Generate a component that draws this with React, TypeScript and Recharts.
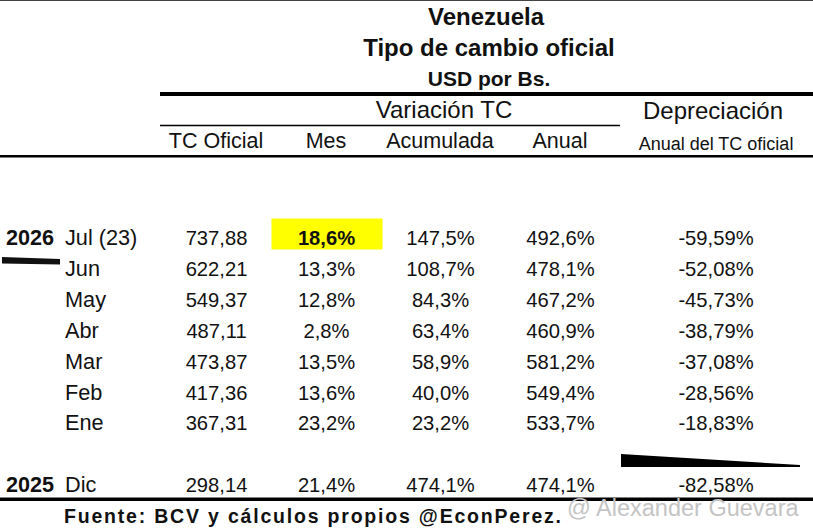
import { Customized, Scatter, ScatterChart, XAxis, YAxis } from 'recharts'

// rows, newest first
const months = ['Jul (23)', 'Jun', 'May', 'Abr', 'Mar', 'Feb', 'Ene', 'Dic']
const years = ['2026', '2026', '2026', '2026', '2026', '2026', '2026', '2025']
const tcOficial = [737.88, 622.21, 549.37, 487.11, 473.87, 417.36, 367.31, 298.14]
const varMes = [18.6, 13.3, 12.8, 2.8, 13.5, 13.6, 23.2, 21.4]
const varAcumulada = [147.5, 108.7, 84.3, 63.4, 58.9, 40.0, 23.2, 474.1]
const varAnual = [492.6, 478.1, 467.2, 460.9, 581.2, 549.4, 533.7, 474.1]
const depAnual = [-59.59, -52.08, -45.73, -38.79, -37.08, -28.56, -18.83, -82.58]
const highlightRow = 'Jul (23)'

const titleLines = ['Venezuela', 'Tipo de cambio oficial', 'USD por Bs.']
const groupHeaders = ['Variación TC', 'Depreciación']
const columnHeaders = ['TC Oficial', 'Mes', 'Acumulada', 'Anual', 'Anual del TC oficial']
const source = 'Fuente: BCV y cálculos propios @EconPerez.'
const watermark = '@ Alexander Guevara'

const W = 813
const H = 532
const FONT = '"Liberation Sans", Arial, Helvetica, sans-serif'
const COL_X = [216.5, 326.5, 440.5, 560.5, 716]
const LABEL_X = 65
const YEAR_X = 6

const fmt = (v: number, d: number, pct: boolean) =>
  v.toFixed(d).replace('.', ',') + (pct ? '%' : '')

// a blank slot is left between year groups
const slots = months.map((_, i) => {
  let gaps = 0
  for (let k = 1; k <= i; k++) if (years[k] !== years[k - 1]) gaps++
  return i + gaps
})
const lastSlot = slots[slots.length - 1]

const columns = [
  tcOficial.map((v) => fmt(v, 2, false)),
  varMes.map((v) => fmt(v, 1, true)),
  varAcumulada.map((v) => fmt(v, 1, true)),
  varAnual.map((v) => fmt(v, 1, true)),
  depAnual.map((v) => fmt(v, 2, true)),
]

const cellData = columns.map((col, c) =>
  col.map((label, i) => ({
    x: COL_X[c],
    slot: slots[i],
    label,
    strong: c === 1 && months[i] === highlightRow,
  })),
)
const monthData = months.map((m, i) => ({ x: LABEL_X, slot: slots[i], label: m }))
const yearData = years
  .map((y, i) => ({ x: YEAR_X, slot: slots[i], label: y, first: i === 0 || years[i - 1] !== y }))
  .filter((d) => d.first)

const CellText = (props: any) => {
  const { cx, cy, payload } = props
  return (
    <g>
      {payload.strong && <rect x={cx - 55} y={cy - 19.5} width={111} height={31} fill="#ffff00" />}
      <text
        x={cx}
        y={cy + 7}
        textAnchor="middle"
        fontSize={20.2}
        fontWeight={payload.strong ? 700 : 400}
        fill="#111"
        fontFamily={FONT}
      >
        {payload.label}
      </text>
    </g>
  )
}

const MonthText = (props: any) => (
  <text x={props.cx} y={props.cy + 7} fontSize={21.7} fill="#111" fontFamily={FONT}>
    {props.payload.label}
  </text>
)

const YearText = (props: any) => (
  <text x={props.cx} y={props.cy + 7} fontSize={21.6} fontWeight={700} fill="#111" fontFamily={FONT}>
    {props.payload.label}
  </text>
)

function Frame() {
  return (
    <g fontFamily={FONT} fill="#111">
      <line x1={0} x2={W} y1={0.5} y2={0.5} stroke="#444" strokeWidth={1} />
      <text x={486} y={25} textAnchor="middle" fontSize={24} fontWeight={700}>{titleLines[0]}</text>
      <text x={489} y={56} textAnchor="middle" fontSize={24} fontWeight={700}>{titleLines[1]}</text>
      <text x={489} y={86} textAnchor="middle" fontSize={21} fontWeight={700}>{titleLines[2]}</text>
      <line x1={160} x2={W} y1={94} y2={94} stroke="#000" strokeWidth={4} />
      <text x={444} y={118} textAnchor="middle" fontSize={24}>{groupHeaders[0]}</text>
      <text x={713} y={119} textAnchor="middle" fontSize={24}>{groupHeaders[1]}</text>
      <line x1={160} x2={620} y1={125.5} y2={125.5} stroke="#000" strokeWidth={1.5} />
      {columnHeaders.map((h, c) => (
        <text
          key={h}
          x={COL_X[c] - (c === 4 ? 0 : 0.5)}
          y={c === 4 ? 150 : 148}
          textAnchor="middle"
          fontSize={c === 4 ? 18 : 21.5}
        >
          {h}
        </text>
      ))}
      <line x1={0} x2={W} y1={156.3} y2={156.3} stroke="#000" strokeWidth={2.5} />
      <line x1={0} x2={W} y1={499.3} y2={499.3} stroke="#000" strokeWidth={3.5} />
      <polygon points="2,257 60,259 60,264.5 2,263.5" fill="#111" />
      <polygon points="621,454 800,465 800,467 621,467" fill="#000" />
      <text x={64} y={523} fontSize={19.5} fontWeight={700} letterSpacing={1.8}>{source}</text>
      <text x={567} y={516} fontSize={23.5} fill="#c4c4c4">{watermark}</text>
    </g>
  )
}

export default function App() {
  return (
    <div style={{ position: 'absolute', left: 0, top: 0, width: W, height: H, background: '#fff' }}>
      <ScatterChart width={W} height={H} margin={{ top: 238, right: 0, bottom: H - 485.2, left: 0 }}>
        <XAxis type="number" dataKey="x" domain={[0, W]} hide />
        <YAxis type="number" dataKey="slot" domain={[0, lastSlot]} reversed hide />
        <Customized component={Frame} />
        {cellData.map((d, c) => (
          <Scatter key={c} data={d} shape={CellText} isAnimationActive={false} />
        ))}
        <Scatter data={monthData} shape={MonthText} isAnimationActive={false} />
        <Scatter data={yearData} shape={YearText} isAnimationActive={false} />
      </ScatterChart>
    </div>
  )
}
